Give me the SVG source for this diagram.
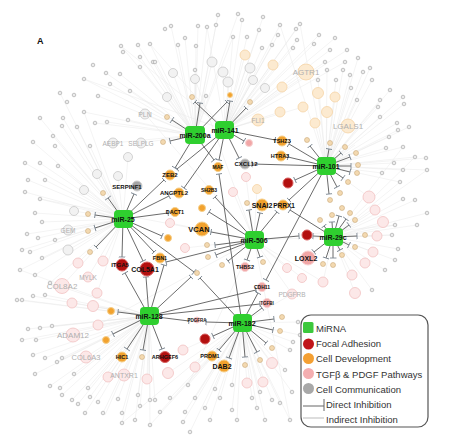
<svg xmlns="http://www.w3.org/2000/svg" width="473" height="438" viewBox="0 0 473 438">
<defs>
<style>
.web{fill:none;stroke:#e9e9e9;stroke-width:0.5}
.bg circle{fill:#ececec;stroke:#a0a0a0;stroke-width:0.6}
.d{stroke:#5a5a5a;stroke-width:0.9;marker-end:url(#t)}
.mi{fill:#2fcf2f}
.ml{font-family:"Liberation Sans",Arial,sans-serif;font-weight:bold;font-size:7px;fill:#111;text-anchor:middle}
.gl{font-family:"Liberation Sans",Arial,sans-serif;font-weight:bold;fill:#111;text-anchor:middle}
.fl{font-family:"Liberation Sans",Arial,sans-serif;fill:#b0b0b0;text-anchor:middle}
.red{fill:#b3100f;stroke:#d96060;stroke-width:1}
.org{fill:#f2a22e;stroke:#f6cf8a;stroke-width:1}
.pnk{fill:#f1a6a6;stroke:#f8d2d2;stroke-width:1}
.gry{fill:#a4a4a4;stroke:#cfcfcf;stroke-width:1}
.sm{fill:#f3d9b0;stroke:#c9a97a;stroke-width:0.6}
.fo{fill:#fcead0;stroke:#f5d3a4;stroke-width:0.8}
.fp{fill:#fce8e8;stroke:#f1c2c2;stroke-width:0.8}
.fg{fill:#f2f2f2;stroke:#c8c8c8;stroke-width:0.8}
.lt{font-family:"Liberation Sans",Arial,sans-serif;font-size:9.5px;fill:#333}
</style>
<marker id="t" viewBox="-1 -4 2 8" markerWidth="2" markerHeight="7" refX="0" refY="0" orient="auto" markerUnits="userSpaceOnUse"><path d="M0,-4V4" stroke="#7a8590" stroke-width="1"/></marker>
</defs>
<rect width="473" height="438" fill="#fff"/>
<text x="37" y="44" font-family="Liberation Sans,Arial,sans-serif" font-weight="bold" font-size="9" fill="#111">A</text>

<g id="connectors">
<g id="indirect">
<path class="web" d="M195 135L121 46M195 135L138 45M195 135L150 44M195 135L140 57M195 135L153 62M195 135L106 73M195 135L120 74M195 135L140 67M195 135L84 79M195 135L110 84M195 135L130 91M195 135L98 96M195 135L84 112M195 135L95 123M195 135L107 122M195 135L128 120M195 135L218 15M195 135L238 14M195 135L171 26M195 135L198 26M195 135L216 25M195 135L185 38M195 135L207 27M195 135L233 37M195 135L178 45M195 135L196 46M195 135L155 62M195 135L195 70M195 135L206 96M195 135L145 114M195 135L113 143M195 135L141 143M195 135L212 62M195 135L173 73M195 135L195 79M195 135L167 97"/>
<path class="web" d="M225 130L263 17M225 130L242 20M225 130L280 25M225 130L300 24M225 130L259 30M225 130L278 35M225 130L296 29M225 130L247 37M225 130L272 45M225 130L297 40M225 130L262 48M225 130L293 48M225 130L319 35M225 130L335 38M225 130L314 44M225 130L330 50M225 130L347 50M225 130L325 62M225 130L345 62M225 130L245 55M225 130L273 65M225 130L306 72M225 130L282 87M225 130L303 107M225 130L280 112M225 130L258 120M225 130L250 68M225 130L223 72M225 130L228 82M225 130L253 80M225 130L265 88M225 130L207 27M225 130L233 37M225 130L121 46M225 130L150 44M225 130L84 79"/>
<path class="web" d="M326 166L358 58M326 166L327 70M326 166L343 70M326 166L363 72M326 166L370 68M326 166L318 80M326 166L336 80M326 166L350 75M326 166L372 80M326 166L351 88M326 166L390 90M326 166L403 97M326 166L380 100M326 166L404 104M326 166L380 117M326 166L397 123M326 166L409 127M326 166L398 130M326 166L389 137M326 166L403 147M326 166L386 148M326 166L355 145M326 166L415 157M326 166L394 163M326 166L426 158M326 166L403 170M326 166L427 170M326 166L382 173M326 166L400 182M326 166L318 93M326 166L335 97M326 166L327 112M326 166L315 123M326 166L348 126M326 166L357 100M326 166L378 107M326 166L369 197M326 166L300 24M326 166L280 25"/>
<path class="web" d="M333 237L415 200M333 237L427 213M333 237L403 199M333 237L395 225M333 237L417 225M333 237L392 235M333 237L398 249M333 237L395 260M333 237L385 270M333 237L372 290M333 237L375 210M333 237L383 222M333 237L377 236M333 237L373 252M333 237L365 263M333 237L352 275M333 237L323 282M333 237L355 293M333 237L400 182M333 237L427 170M333 237L415 157M333 237L403 147"/>
<path class="web" d="M123 219L33 142M123 219L55 146M123 219L90 146M123 219L53 136M123 219L62 126M123 219L77 127M123 219L40 118M123 219L63 118M123 219L25 163M123 219L40 163M123 219L58 166M123 219L28 180M123 219L45 180M123 219L25 192M123 219L40 199M123 219L35 213M123 219L42 222M123 219L27 234M123 219L38 238M123 219L55 240M123 219L22 250M123 219L30 252M123 219L42 258M123 219L20 270M123 219L35 275M123 219L50 283M123 219L128 157M123 219L97 174M123 219L118 176M123 219L84 190M123 219L74 211M123 219L68 230M123 219L68 250M123 219L78 263M123 219L103 261M123 219L88 277M123 219L62 286M123 219L97 293M123 219L84 112M123 219L60 93"/>
<path class="web" d="M149 316L17 300M149 316L45 295M149 316L33 296M149 316L22 300M149 316L40 328M149 316L28 329M149 316L52 326M149 316L22 340M149 316L36 340M149 316L33 355M149 316L45 358M149 316L62 358M149 316L35 374M149 316L57 362M149 316L74 374M149 316L50 386M149 316L60 388M149 316L88 388M149 316L62 395M149 316L72 400M149 316L90 397M149 316L78 404M149 316L98 402M149 316L85 413M149 316L103 413M149 316L122 413M149 316L105 415M149 316L138 395M149 316L118 399M149 316L140 406M149 316L150 400M149 316L122 423M149 316L135 420M149 316L150 425M149 316L155 400M149 316L148 380M149 316L72 303M149 316L93 306M149 316L98 325M149 316L73 335M149 316L86 357M149 316L108 377M149 316L124 375M149 316L147 379M149 316L50 283M149 316L20 270"/>
<path class="web" d="M242 323L188 385M242 323L215 389M242 323L232 385M242 323L260 392M242 323L170 398M242 323L195 398M242 323L220 398M242 323L252 398M242 323L272 400M242 323L292 392M242 323L160 412M242 323L185 412M242 323L205 408M242 323L232 410M242 323L257 408M242 323L280 403M242 323L183 422M242 323L210 420M242 323L237 420M242 323L265 420M242 323L190 432M242 323L290 420M242 323L285 370M242 323L290 350M242 323L298 322M242 323L300 335M242 323L293 342M242 323L183 350M242 323L195 367M242 323L168 373M242 323L272 363M242 323L247 383M242 323L263 382M242 323L292 294M242 323L150 425M242 323L122 423"/>
<path class="web" d="M254 240L246 177M254 240L233 192M254 240L257 189M254 240L170 223M254 240L185 248M254 240L287 268M254 240L302 278M254 240L292 294M254 240L323 282M254 240L195 79M254 240L145 114M254 240L395 225M254 240L392 235M254 240L40 199M254 240L98 325M254 240L188 385M254 240L290 420"/>
</g>
<g id="direct">
<line class="d" x1="195" y1="135" x2="172" y2="120"/>
<line class="d" x1="195" y1="135" x2="170" y2="141"/>
<line class="d" x1="195" y1="135" x2="175" y2="168"/>
<line class="d" x1="195" y1="135" x2="214" y2="160"/>
<line class="d" x1="195" y1="135" x2="227" y2="102"/>
<line class="d" x1="195" y1="135" x2="200" y2="103"/>
<line class="d" x1="225" y1="130" x2="230" y2="101"/>
<line class="d" x1="225" y1="130" x2="195" y2="102"/>
<line class="d" x1="225" y1="130" x2="246" y2="108"/>
<line class="d" x1="225" y1="130" x2="244" y2="141"/>
<line class="d" x1="225" y1="130" x2="275" y2="140"/>
<line class="d" x1="225" y1="130" x2="239" y2="158"/>
<line class="d" x1="225" y1="130" x2="219" y2="160"/>
<line class="d" x1="225" y1="130" x2="177" y2="169"/>
<line class="d" x1="225" y1="130" x2="184" y2="188"/>
<line class="d" x1="326" y1="166" x2="289" y2="144"/>
<line class="d" x1="326" y1="166" x2="288" y2="157"/>
<line class="d" x1="326" y1="166" x2="252" y2="164"/>
<line class="d" x1="326" y1="166" x2="295" y2="180"/>
<line class="d" x1="326" y1="166" x2="289" y2="200"/>
<line class="d" x1="326" y1="166" x2="310" y2="146"/>
<line class="d" x1="326" y1="166" x2="329" y2="149"/>
<line class="d" x1="326" y1="166" x2="341" y2="153"/>
<line class="d" x1="326" y1="166" x2="350" y2="157"/>
<line class="d" x1="326" y1="166" x2="351" y2="166"/>
<line class="d" x1="326" y1="166" x2="350" y2="172"/>
<line class="d" x1="326" y1="166" x2="343" y2="178"/>
<line class="d" x1="326" y1="166" x2="337" y2="187"/>
<line class="d" x1="326" y1="166" x2="329" y2="194"/>
<line class="d" x1="326" y1="166" x2="266" y2="280"/>
<line class="d" x1="333" y1="237" x2="313" y2="236"/>
<line class="d" x1="333" y1="237" x2="314" y2="252"/>
<line class="d" x1="333" y1="237" x2="324" y2="226"/>
<line class="d" x1="333" y1="237" x2="332" y2="222"/>
<line class="d" x1="333" y1="237" x2="339" y2="216"/>
<line class="d" x1="333" y1="237" x2="346" y2="219"/>
<line class="d" x1="333" y1="237" x2="349" y2="225"/>
<line class="d" x1="333" y1="237" x2="357" y2="236"/>
<line class="d" x1="333" y1="237" x2="349" y2="245"/>
<line class="d" x1="333" y1="237" x2="340" y2="250"/>
<line class="d" x1="333" y1="237" x2="333" y2="258"/>
<line class="d" x1="333" y1="237" x2="326" y2="258"/>
<line class="d" x1="333" y1="237" x2="290" y2="210"/>
<line class="d" x1="123" y1="219" x2="134" y2="194"/>
<line class="d" x1="123" y1="219" x2="108" y2="198"/>
<line class="d" x1="123" y1="219" x2="95" y2="215"/>
<line class="d" x1="123" y1="219" x2="95" y2="228"/>
<line class="d" x1="123" y1="219" x2="96" y2="247"/>
<line class="d" x1="123" y1="219" x2="122" y2="257"/>
<line class="d" x1="123" y1="219" x2="143" y2="261"/>
<line class="d" x1="123" y1="219" x2="154" y2="252"/>
<line class="d" x1="123" y1="219" x2="164" y2="180"/>
<line class="d" x1="123" y1="219" x2="169" y2="196"/>
<line class="d" x1="123" y1="219" x2="168" y2="213"/>
<line class="d" x1="123" y1="219" x2="162" y2="236"/>
<line class="d" x1="123" y1="219" x2="194" y2="272"/>
<line class="d" x1="254" y1="240" x2="215" y2="197"/>
<line class="d" x1="254" y1="240" x2="249" y2="210"/>
<line class="d" x1="254" y1="240" x2="260" y2="213"/>
<line class="d" x1="254" y1="240" x2="277" y2="212"/>
<line class="d" x1="254" y1="240" x2="211" y2="232"/>
<line class="d" x1="254" y1="240" x2="209" y2="212"/>
<line class="d" x1="254" y1="240" x2="215" y2="245"/>
<line class="d" x1="254" y1="240" x2="216" y2="255"/>
<line class="d" x1="254" y1="240" x2="228" y2="261"/>
<line class="d" x1="254" y1="240" x2="247" y2="260"/>
<line class="d" x1="254" y1="240" x2="260" y2="257"/>
<line class="d" x1="254" y1="240" x2="299" y2="236"/>
<line class="d" x1="254" y1="240" x2="166" y2="262"/>
<line class="d" x1="149" y1="316" x2="125" y2="273"/>
<line class="d" x1="149" y1="316" x2="146" y2="277"/>
<line class="d" x1="149" y1="316" x2="118" y2="312"/>
<line class="d" x1="149" y1="316" x2="113" y2="334"/>
<line class="d" x1="149" y1="316" x2="127" y2="349"/>
<line class="d" x1="149" y1="316" x2="143" y2="350"/>
<line class="d" x1="149" y1="316" x2="162" y2="349"/>
<line class="d" x1="149" y1="316" x2="189" y2="321"/>
<line class="d" x1="149" y1="316" x2="191" y2="277"/>
<line class="d" x1="149" y1="316" x2="256" y2="290"/>
<line class="d" x1="149" y1="316" x2="260" y2="304"/>
<line class="d" x1="149" y1="316" x2="164" y2="265"/>
<line class="d" x1="242" y1="323" x2="262" y2="308"/>
<line class="d" x1="242" y1="323" x2="274" y2="319"/>
<line class="d" x1="242" y1="323" x2="273" y2="330"/>
<line class="d" x1="242" y1="323" x2="266" y2="343"/>
<line class="d" x1="242" y1="323" x2="257" y2="352"/>
<line class="d" x1="242" y1="323" x2="245" y2="357"/>
<line class="d" x1="242" y1="323" x2="229" y2="358"/>
<line class="d" x1="242" y1="323" x2="219" y2="350"/>
<line class="d" x1="242" y1="323" x2="213" y2="336"/>
<line class="d" x1="242" y1="323" x2="206" y2="322"/>
<line class="d" x1="242" y1="323" x2="219" y2="174"/>
<line class="d" x1="242" y1="323" x2="258" y2="293"/>
<line class="d" x1="242" y1="323" x2="200" y2="278"/>
</g>
</g>

<g id="background" class="bg">
<circle cx="121" cy="46" r="1.8"/><circle cx="138" cy="45" r="1.8"/><circle cx="150" cy="44" r="1.8"/><circle cx="123" cy="52" r="1.8"/><circle cx="140" cy="57" r="1.8"/><circle cx="153" cy="62" r="1.8"/><circle cx="93" cy="65" r="1.8"/><circle cx="106" cy="73" r="1.8"/><circle cx="120" cy="74" r="1.8"/><circle cx="140" cy="67" r="1.8"/><circle cx="84" cy="79" r="1.8"/><circle cx="110" cy="84" r="1.8"/><circle cx="130" cy="91" r="1.8"/><circle cx="60" cy="93" r="1.8"/><circle cx="74" cy="95" r="1.8"/><circle cx="67" cy="102" r="1.8"/><circle cx="98" cy="96" r="1.8"/><circle cx="84" cy="112" r="1.8"/><circle cx="40" cy="118" r="1.8"/><circle cx="63" cy="118" r="1.8"/><circle cx="95" cy="123" r="1.8"/><circle cx="107" cy="122" r="1.8"/><circle cx="128" cy="120" r="1.8"/><circle cx="62" cy="126" r="1.8"/><circle cx="77" cy="127" r="1.8"/><circle cx="53" cy="136" r="1.8"/><circle cx="33" cy="142" r="1.8"/><circle cx="55" cy="146" r="1.8"/><circle cx="90" cy="146" r="1.8"/>
<circle cx="218" cy="15" r="1.8"/><circle cx="238" cy="14" r="1.8"/><circle cx="263" cy="17" r="1.8"/><circle cx="171" cy="26" r="1.8"/><circle cx="198" cy="26" r="1.8"/><circle cx="216" cy="25" r="1.8"/><circle cx="242" cy="20" r="1.8"/><circle cx="280" cy="25" r="1.8"/><circle cx="300" cy="24" r="1.8"/><circle cx="165" cy="29" r="1.8"/><circle cx="185" cy="38" r="1.8"/><circle cx="207" cy="27" r="1.8"/><circle cx="233" cy="37" r="1.8"/><circle cx="259" cy="30" r="1.8"/><circle cx="278" cy="35" r="1.8"/><circle cx="296" cy="29" r="1.8"/><circle cx="178" cy="45" r="1.8"/><circle cx="196" cy="46" r="1.8"/><circle cx="247" cy="37" r="1.8"/><circle cx="272" cy="45" r="1.8"/><circle cx="297" cy="40" r="1.8"/><circle cx="155" cy="62" r="1.8"/><circle cx="195" cy="70" r="1.8"/><circle cx="262" cy="48" r="1.8"/><circle cx="293" cy="48" r="1.8"/><circle cx="206" cy="96" r="1.8"/>
<circle cx="319" cy="35" r="1.8"/><circle cx="335" cy="38" r="1.8"/><circle cx="314" cy="44" r="1.8"/><circle cx="330" cy="50" r="1.8"/><circle cx="347" cy="50" r="1.8"/><circle cx="325" cy="62" r="1.8"/><circle cx="345" cy="62" r="1.8"/><circle cx="358" cy="58" r="1.8"/><circle cx="327" cy="70" r="1.8"/><circle cx="343" cy="70" r="1.8"/><circle cx="363" cy="72" r="1.8"/><circle cx="370" cy="68" r="1.8"/><circle cx="318" cy="80" r="1.8"/><circle cx="336" cy="80" r="1.8"/><circle cx="350" cy="75" r="1.8"/><circle cx="372" cy="80" r="1.8"/><circle cx="351" cy="88" r="1.8"/><circle cx="390" cy="90" r="1.8"/><circle cx="403" cy="97" r="1.8"/><circle cx="380" cy="100" r="1.8"/><circle cx="404" cy="104" r="1.8"/><circle cx="380" cy="117" r="1.8"/><circle cx="397" cy="123" r="1.8"/><circle cx="409" cy="127" r="1.8"/><circle cx="398" cy="130" r="1.8"/><circle cx="389" cy="137" r="1.8"/><circle cx="403" cy="147" r="1.8"/><circle cx="386" cy="148" r="1.8"/><circle cx="357" cy="100" r="1.8"/><circle cx="378" cy="107" r="1.8"/>
<circle cx="415" cy="157" r="1.8"/><circle cx="394" cy="163" r="1.8"/><circle cx="426" cy="158" r="1.8"/><circle cx="403" cy="170" r="1.8"/><circle cx="427" cy="170" r="1.8"/><circle cx="382" cy="173" r="1.8"/><circle cx="400" cy="182" r="1.8"/><circle cx="415" cy="200" r="1.8"/><circle cx="427" cy="213" r="1.8"/><circle cx="403" cy="199" r="1.8"/><circle cx="395" cy="225" r="1.8"/><circle cx="417" cy="225" r="1.8"/><circle cx="392" cy="235" r="1.8"/><circle cx="398" cy="249" r="1.8"/><circle cx="395" cy="260" r="1.8"/><circle cx="385" cy="270" r="1.8"/><circle cx="372" cy="290" r="1.8"/>
<circle cx="33" cy="296" r="1.8"/><circle cx="22" cy="300" r="1.8"/><circle cx="40" cy="328" r="1.8"/><circle cx="28" cy="329" r="1.8"/><circle cx="52" cy="326" r="1.8"/><circle cx="22" cy="340" r="1.8"/><circle cx="36" cy="340" r="1.8"/><circle cx="33" cy="355" r="1.8"/><circle cx="45" cy="358" r="1.8"/><circle cx="62" cy="358" r="1.8"/><circle cx="35" cy="374" r="1.8"/><circle cx="57" cy="362" r="1.8"/><circle cx="74" cy="374" r="1.8"/><circle cx="50" cy="386" r="1.8"/><circle cx="60" cy="388" r="1.8"/><circle cx="88" cy="388" r="1.8"/><circle cx="62" cy="395" r="1.8"/><circle cx="72" cy="400" r="1.8"/><circle cx="90" cy="397" r="1.8"/><circle cx="78" cy="404" r="1.8"/><circle cx="98" cy="402" r="1.8"/><circle cx="85" cy="413" r="1.8"/><circle cx="103" cy="413" r="1.8"/><circle cx="122" cy="413" r="1.8"/><circle cx="138" cy="395" r="1.8"/><circle cx="118" cy="399" r="1.8"/><circle cx="140" cy="406" r="1.8"/><circle cx="150" cy="400" r="1.8"/><circle cx="122" cy="423" r="1.8"/><circle cx="135" cy="420" r="1.8"/><circle cx="150" cy="425" r="1.8"/><circle cx="155" cy="400" r="1.8"/><circle cx="148" cy="380" r="1.8"/>
<circle cx="188" cy="385" r="1.8"/><circle cx="215" cy="389" r="1.8"/><circle cx="232" cy="385" r="1.8"/><circle cx="260" cy="392" r="1.8"/><circle cx="170" cy="398" r="1.8"/><circle cx="195" cy="398" r="1.8"/><circle cx="220" cy="398" r="1.8"/><circle cx="252" cy="398" r="1.8"/><circle cx="272" cy="400" r="1.8"/><circle cx="292" cy="392" r="1.8"/><circle cx="160" cy="412" r="1.8"/><circle cx="185" cy="412" r="1.8"/><circle cx="205" cy="408" r="1.8"/><circle cx="232" cy="410" r="1.8"/><circle cx="257" cy="408" r="1.8"/><circle cx="280" cy="403" r="1.8"/><circle cx="183" cy="422" r="1.8"/><circle cx="210" cy="420" r="1.8"/><circle cx="237" cy="420" r="1.8"/><circle cx="265" cy="420" r="1.8"/><circle cx="190" cy="432" r="1.8"/><circle cx="290" cy="420" r="1.8"/><circle cx="285" cy="370" r="1.8"/><circle cx="290" cy="350" r="1.8"/><circle cx="298" cy="322" r="1.8"/><circle cx="300" cy="335" r="1.8"/><circle cx="293" cy="342" r="1.8"/>
<circle cx="25" cy="163" r="1.8"/><circle cx="40" cy="163" r="1.8"/><circle cx="58" cy="166" r="1.8"/><circle cx="28" cy="180" r="1.8"/><circle cx="45" cy="180" r="1.8"/><circle cx="25" cy="192" r="1.8"/><circle cx="40" cy="199" r="1.8"/><circle cx="35" cy="213" r="1.8"/><circle cx="42" cy="222" r="1.8"/><circle cx="27" cy="234" r="1.8"/><circle cx="38" cy="238" r="1.8"/><circle cx="55" cy="240" r="1.8"/><circle cx="22" cy="250" r="1.8"/><circle cx="30" cy="252" r="1.8"/><circle cx="42" cy="258" r="1.8"/><circle cx="20" cy="270" r="1.8"/><circle cx="35" cy="275" r="1.8"/><circle cx="50" cy="283" r="1.8"/><circle cx="17" cy="300" r="1.8"/><circle cx="45" cy="295" r="1.8"/>
</g>

<g id="faint-nodes">
<circle class="fg" cx="145" cy="114" r="5"/><text class="fl" x="145" y="116.5" font-size="7">PLN</text>
<circle class="fg" cx="113" cy="143" r="5"/><text class="fl" x="113" y="145.5" font-size="6.5">AEBP1</text>
<circle class="fg" cx="141" cy="143" r="5"/><text class="fl" x="141" y="145.5" font-size="6.5">SELPLG</text>
<circle class="fg" cx="212" cy="62" r="5"/><circle class="fg" cx="250" cy="68" r="5"/><circle class="fg" cx="223" cy="72" r="5"/><circle class="fg" cx="173" cy="73" r="4.5"/><circle class="fg" cx="195" cy="79" r="4.5"/><circle class="fg" cx="228" cy="82" r="5"/><circle class="fg" cx="253" cy="80" r="4.5"/><circle class="fg" cx="265" cy="88" r="4.5"/><circle class="fg" cx="167" cy="97" r="4.5"/>
<circle class="fg" cx="128" cy="157" r="4.5"/><circle class="fg" cx="97" cy="174" r="4.5"/><circle class="fg" cx="118" cy="176" r="4.5"/><circle class="fg" cx="84" cy="190" r="4.5"/><circle class="fg" cx="74" cy="211" r="4.5"/>
<circle class="fg" cx="68" cy="230" r="5"/><text class="fl" x="68" y="232.5" font-size="6.5">GEM</text>
<circle class="fg" cx="68" cy="250" r="5"/>
<circle class="fo" cx="245" cy="55" r="5"/><circle class="fo" cx="273" cy="65" r="5"/>
<circle class="fo" cx="306" cy="72" r="8"/><text class="fl" x="306" y="75" font-size="8">AGTR1</text>
<circle class="fo" cx="282" cy="87" r="5"/><circle class="fo" cx="318" cy="93" r="5.5"/><circle class="fo" cx="335" cy="97" r="5"/><circle class="fo" cx="303" cy="107" r="5"/><circle class="fo" cx="280" cy="112" r="5"/><circle class="fo" cx="327" cy="112" r="5.5"/><circle class="fo" cx="315" cy="123" r="5"/>
<circle class="fo" cx="258" cy="120" r="6"/><text class="fl" x="258" y="122.5" font-size="6.5">FLI1</text>
<circle class="fo" cx="348" cy="126" r="7"/><text class="fl" x="348" y="129" font-size="8">LGALS1</text>
<circle class="fp" cx="246" cy="177" r="4.5"/><circle class="fp" cx="233" cy="192" r="4.5"/><circle class="fo" cx="257" cy="189" r="4.5"/><circle class="fp" cx="170" cy="223" r="4.5"/><circle class="fp" cx="185" cy="248" r="4.5"/><circle class="fp" cx="287" cy="268" r="4.5"/><circle class="fp" cx="302" cy="278" r="4.5"/>
<circle class="fp" cx="292" cy="294" r="5"/><text class="fl" x="292" y="296.5" font-size="6.5">PDGFRB</text>
<circle class="fp" cx="369" cy="197" r="6"/><circle class="fp" cx="375" cy="210" r="5"/><circle class="fp" cx="383" cy="222" r="5.5"/><circle class="fp" cx="377" cy="236" r="5"/><circle class="fp" cx="373" cy="252" r="5"/><circle class="fp" cx="365" cy="263" r="5"/><circle class="fp" cx="352" cy="275" r="5"/><circle class="fp" cx="323" cy="282" r="5"/><circle class="fp" cx="355" cy="293" r="5.5"/>
<circle class="fp" cx="78" cy="263" r="5"/><circle class="fp" cx="103" cy="261" r="5"/>
<circle class="fp" cx="88" cy="277" r="5"/><text class="fl" x="88" y="279.5" font-size="6.5">MYLK</text>
<circle class="fp" cx="62" cy="286" r="7.5"/><text class="fl" x="62" y="289" font-size="8">COL8A2</text>
<circle class="fp" cx="97" cy="293" r="5"/><circle class="fp" cx="72" cy="303" r="5"/><circle class="fp" cx="93" cy="306" r="5.5"/><circle class="fp" cx="98" cy="325" r="5"/>
<circle class="fp" cx="73" cy="335" r="7"/><text class="fl" x="73" y="338" font-size="8">ADAM12</text>
<circle class="fp" cx="86" cy="357" r="6"/><text class="fl" x="86" y="360" font-size="7.5">COL6A3</text>
<circle class="fp" cx="108" cy="377" r="5"/>
<circle class="fp" cx="124" cy="375" r="6"/><text class="fl" x="124" y="378" font-size="7">ANTXR1</text>
<circle class="fp" cx="147" cy="379" r="5"/><circle class="fp" cx="183" cy="350" r="5"/><circle class="fp" cx="195" cy="367" r="5"/><circle class="fp" cx="168" cy="373" r="5.5"/><circle class="fp" cx="272" cy="363" r="5.5"/><circle class="fp" cx="247" cy="383" r="5"/><circle class="fp" cx="263" cy="382" r="5"/>
</g>

<g id="targets">
<circle class="sm" cx="167" cy="117" r="2.5"/><circle class="sm" cx="163" cy="142" r="2.5"/><circle class="sm" cx="192" cy="97" r="2.5"/><circle class="org" cx="230" cy="95" r="2.5"/><circle class="sm" cx="250" cy="102" r="2.5"/>
<circle class="sm" cx="307" cy="140" r="2.5"/><circle class="sm" cx="330" cy="143" r="2.5"/><circle class="sm" cx="345" cy="147" r="2.5"/><circle class="sm" cx="356" cy="153" r="2.5"/><circle class="sm" cx="358" cy="165" r="2.5"/><circle class="sm" cx="357" cy="173" r="2.5"/><circle class="sm" cx="348" cy="182" r="2.5"/><circle class="sm" cx="340" cy="193" r="2.5"/><circle class="sm" cx="330" cy="200" r="2.5"/>
<circle class="sm" cx="320" cy="220" r="2.5"/><circle class="sm" cx="332" cy="215" r="2.5"/><circle class="sm" cx="342" cy="208" r="2.5"/><circle class="sm" cx="350" cy="213" r="2.5"/><circle class="sm" cx="355" cy="220" r="2.5"/><circle class="sm" cx="365" cy="235" r="2.5"/><circle class="sm" cx="355" cy="247" r="2.5"/><circle class="sm" cx="342" cy="255" r="2.5"/><circle class="sm" cx="333" cy="265" r="2.5"/><circle class="sm" cx="323" cy="264" r="2.5"/>
<circle class="sm" cx="103" cy="193" r="2.5"/><circle class="sm" cx="88" cy="214" r="2.5"/><circle class="sm" cx="88" cy="231" r="2.5"/><circle class="sm" cx="90" cy="252" r="2.5"/>
<circle class="sm" cx="247" cy="203" r="2.5"/><circle class="sm" cx="207" cy="245" r="2.5"/><circle class="sm" cx="208" cy="257" r="2.5"/><circle class="sm" cx="222" cy="265" r="2.5"/><circle class="sm" cx="263" cy="262" r="2.5"/><circle class="sm" cx="197" cy="273" r="2.5"/>
<circle class="sm" cx="142" cy="357" r="2.5"/><circle class="sm" cx="282" cy="317" r="2.5"/><circle class="sm" cx="280" cy="331" r="2.5"/><circle class="sm" cx="272" cy="348" r="2.5"/><circle class="sm" cx="260" cy="360" r="2.5"/><circle class="sm" cx="245" cy="365" r="2.5"/>
<circle class="pnk" cx="249" cy="143" r="3.5"/>
<circle class="org" cx="202" cy="208" r="3.5"/><circle class="org" cx="168" cy="238" r="3.5"/><circle class="org" cx="111" cy="311" r="3.5"/><circle class="org" cx="106" cy="340" r="3.5"/>
<circle class="red" cx="288" cy="183" r="5"/>
<circle class="red" cx="307" cy="235" r="5"/>
<circle class="red" cx="205" cy="339" r="5"/>
<g id="n-SERPINF1"><circle class="gry" cx="137" cy="186" r="5"/><text class="gl" x="127" y="189" font-size="6">SERPINF1</text></g>
<g id="n-CXCL12"><circle class="gry" cx="245" cy="164" r="5"/><text class="gl" x="246" y="166" font-size="6">CXCL12</text></g>
<g id="n-ZEB2"><circle class="org" cx="170" cy="175" r="5"/><text class="gl" x="170" y="177" font-size="6">ZEB2</text></g>
<g id="n-MAF"><circle class="org" cx="218" cy="167" r="4.5"/><text class="gl" x="218" y="169" font-size="5">MAF</text></g>
<g id="n-ANGPTL2"><circle class="org" cx="179" cy="193" r="5"/><text class="gl" x="174" y="195" font-size="6">ANGPTL2</text></g>
<g id="n-SH2B3"><circle class="org" cx="209" cy="190" r="4.5"/><text class="gl" x="209" y="192" font-size="5">SH2B3</text></g>
<g id="n-DACT1"><circle class="org" cx="175" cy="212" r="4.5"/><text class="gl" x="175" y="214" font-size="5.5">DACT1</text></g>
<g id="n-VCAN"><circle class="org" cx="202" cy="229" r="7"/><text class="gl" x="199" y="232" font-size="7.5">VCAN</text></g>
<g id="n-FBN1"><circle class="org" cx="160" cy="258" r="5"/><text class="gl" x="160" y="260" font-size="5.5">FBN1</text></g>
<g id="n-ITGA5"><circle class="red" cx="122" cy="265" r="6"/><text class="gl" x="120" y="267" font-size="6">ITGA5</text></g>
<g id="n-COL5A1"><circle class="red" cx="147" cy="269" r="7"/><text class="gl" x="145" y="271.5" font-size="7">COL5A1</text></g>
<g id="n-TSHZ3"><circle class="org" cx="282" cy="141" r="5"/><text class="gl" x="282" y="143" font-size="5.5">TSHZ3</text></g>
<g id="n-HTRA3"><circle class="org" cx="281" cy="156" r="5"/><text class="gl" x="280" y="158" font-size="5.5">HTRA3</text></g>
<g id="n-SNAI2"><circle class="org" cx="262" cy="205" r="6"/><text class="gl" x="262" y="207.5" font-size="7">SNAI2</text></g>
<g id="n-PRRX1"><circle class="org" cx="283" cy="205" r="5"/><text class="gl" x="284" y="207.5" font-size="6.5">PRRX1</text></g>
<g id="n-THBS2"><circle class="pnk" cx="245" cy="267" r="4.5"/><text class="gl" x="245" y="269" font-size="5.5">THBS2</text></g>
<g id="n-CDH11"><circle class="pnk" cx="262" cy="287" r="4.5"/><text class="gl" x="262" y="289" font-size="5">CDH11</text></g>
<g id="n-TGFBI"><circle class="pnk" cx="267" cy="303" r="4.5"/><text class="gl" x="267" y="305" font-size="4.5">TGFBI</text></g>
<g id="n-LOXL2"><circle class="pnk" cx="308" cy="258" r="7"/><text class="gl" x="306" y="260.5" font-size="7">LOXL2</text></g>
<g id="n-HIC1"><circle class="org" cx="122" cy="357" r="5"/><text class="gl" x="122" y="359" font-size="5.5">HIC1</text></g>
<g id="n-ARHGEF6"><circle class="red" cx="165" cy="357" r="5.5"/><text class="gl" x="165" y="359" font-size="5.5">ARHGEF6</text></g>
<g id="n-PDGFRA"><circle class="pnk" cx="197" cy="320" r="3"/><text class="gl" x="197" y="322" font-size="4.5">PDGFRA</text></g>
<g id="n-PRDM1"><circle class="org" cx="212" cy="356" r="5"/><text class="gl" x="210" y="358" font-size="5.5">PRDM1</text></g>
<g id="n-DAB2"><circle class="org" cx="224" cy="366" r="6"/><text class="gl" x="222" y="368.5" font-size="7">DAB2</text></g>
</g>

<g id="mirnas">
<g id="miR-200a"><rect class="mi" x="185" y="126" width="20" height="18" rx="4"/><text class="ml" x="195" y="137.5">miR-200a</text></g>
<g id="miR-141"><rect class="mi" x="215" y="121" width="19" height="18" rx="4"/><text class="ml" x="225" y="132.5">miR-141</text></g>
<g id="miR-101"><rect class="mi" x="317" y="157" width="19" height="18" rx="4"/><text class="ml" x="326" y="168.5">miR-101</text></g>
<g id="miR-29c"><rect class="mi" x="324" y="228" width="19" height="18" rx="4"/><text class="ml" x="333" y="239.5">miR-29c</text></g>
<g id="miR-25"><rect class="mi" x="114" y="210" width="19" height="18" rx="4"/><text class="ml" x="123" y="221.5">miR-25</text></g>
<g id="miR-506"><rect class="mi" x="245" y="231" width="19" height="18" rx="4"/><text class="ml" x="254" y="242.5">miR-506</text></g>
<g id="miR-128"><rect class="mi" x="140" y="307" width="19" height="18" rx="4"/><text class="ml" x="149" y="318.5">miR-128</text></g>
<g id="miR-182"><rect class="mi" x="233" y="314" width="19" height="18" rx="4"/><text class="ml" x="242" y="325.5">miR-182</text></g>
</g>

<g id="legend">
<rect x="301" y="315" width="127" height="112" rx="10" fill="#fff" stroke="#555" stroke-width="1.2"/>
<rect x="303" y="322" width="10.5" height="11" rx="1.5" fill="#3cc83c"/>
<text class="lt" x="316" y="332">MiRNA</text>
<circle cx="308.5" cy="344" r="5.5" fill="#c0151a"/>
<text class="lt" x="316" y="347">Focal Adhesion</text>
<circle cx="308.5" cy="358.5" r="5.5" fill="#f4a033"/>
<text class="lt" x="316" y="362">Cell Development</text>
<circle cx="308.5" cy="373.5" r="5.5" fill="#f4aeb0"/>
<text class="lt" x="316" y="377.5">TGFβ &amp; PDGF Pathways</text>
<circle cx="308.5" cy="388.5" r="5.5" fill="#a8a8a8"/>
<text class="lt" x="316" y="393">Cell Communication</text>
<line x1="303" y1="406" x2="324" y2="406" stroke="#666" stroke-width="1"/>
<line x1="324" y1="399" x2="324" y2="411" stroke="#666" stroke-width="1"/>
<text class="lt" x="326" y="407.5">Direct Inhibition</text>
<line x1="303" y1="418" x2="324" y2="418" stroke="#bbb" stroke-width="1"/>
<text class="lt" x="326" y="423">Indirect Inhibition</text>
</g>
</svg>
